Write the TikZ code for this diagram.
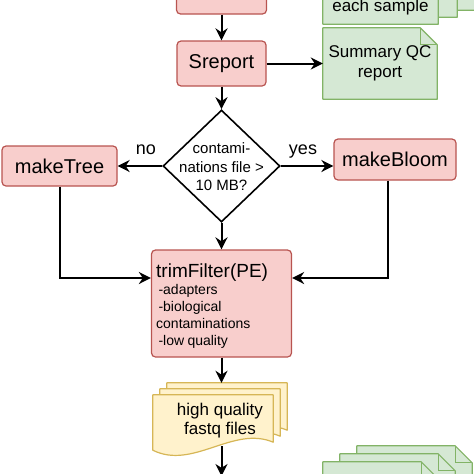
\documentclass[tikz,border=0pt]{standalone}
\usepackage{fontspec}
\setmainfont{Liberation Sans}
\usetikzlibrary{arrows.meta, shapes.geometric, backgrounds, calc}
\definecolor{redfill}{HTML}{F8CECC}
\definecolor{redline}{HTML}{B85450}
\definecolor{greenfill}{HTML}{D5E8D4}
\definecolor{greenline}{HTML}{82B366}
\definecolor{yellowfill}{HTML}{FFF2CC}
\definecolor{yellowline}{HTML}{D6B656}
\newcommand{\foldnote}[1]
{
	\begin{scope}[on background layer]
	\draw[fill=greenfill, draw=greenline, line width=1.2pt, line join=round] (#1.south west) -- (#1.north west) -- ([xshift=-17pt]#1.north east) -- ([yshift=-17pt]#1.north east) -- (#1.south east) -- cycle;
	\draw[greenline, line width=1.2pt] ([xshift=-17pt]#1.north east) |- ([yshift=-17pt]#1.north east);
	\end{scope}
}
\newcommand{\wavydoc}[1]
{
	\begin{scope}[on background layer]
	\draw[fill=yellowfill, draw=yellowline, line width=1.2pt, line join=round] (#1.south west) -- (#1.north west) -- (#1.north east) -- ([yshift=8pt]#1.south east) .. controls +(-40,-17) and +(40,20) .. (#1.south west) -- cycle;
	\end{scope}
}

\begin{document}
\begin{tikzpicture}[x=1pt, y=-1pt,
	redbox/.style={rectangle, rounded corners=4pt, fill=redfill,
		draw=redline, line width=1.2pt,
		font=\fontsize{20}{24}\selectfont},
	notebox/.style={rectangle, inner sep=0pt, align=center,
		minimum width=115pt, minimum height=71pt,
		font=\fontsize{17}{20.5}\selectfont},
	docbox/.style={rectangle, inner sep=0pt,
		minimum width=120pt, minimum height=55pt},
	lbl/.style={inner sep=0pt},
	arr/.style={-{Stealth[length=12pt, width=12pt]}, line width=2pt}]

	\useasboundingbox (0,0) rectangle (474,474);

	% main column
	\node[redbox, minimum width=90pt, minimum height=44pt] (qc) at (221.5,-8) {};
	\node[redbox, minimum width=89pt, minimum height=45pt] (sreport) at (221.5,63.5) {Sreport};
	\node[diamond, draw=black, line width=1.6pt, minimum width=117pt,
		minimum height=112pt, inner sep=0pt] (dec) at (221.5,166) {};
	\node[lbl, align=center, font=\fontsize{15}{18.5}\selectfont] (dectxt) at (221.5,167) {contami-\\nations file >\\10 MB?};
	\node[redbox, minimum width=115pt, minimum height=40pt] (tree) at (59.5,166) {makeTree};
	\node[redbox, minimum width=122pt, minimum height=41pt] (bloom) at (395,159.5) {makeBloom};
	\node[redbox, minimum width=140pt, minimum height=107pt] (trim) at (221.5,303.5) {};
	\node[anchor=north west, inner sep=0pt, text width=136pt, align=left] (trimtxt) at (156,264)
		{{\fontsize{19}{22}\selectfont trimFilter(PE)\par}
		\fontsize{14}{17}\selectfont \,-adapters\par \,-biological\par contaminations\par \,-low quality\par};

	% reports
	\node[notebox] (qcsamp3) at (418.5,-25.5) {};
	\foldnote{qcsamp3}
	\node[notebox] (qcsamp2) at (399.5,-18.5) {};
	\foldnote{qcsamp2}
	\node[notebox] (qcsamp1) at (380.5,-11.5) {};
	\foldnote{qcsamp1}
	\node[lbl, font=\fontsize{17}{20.5}\selectfont] (qcsamptxt) at (380.5,7.5) {each sample};
	\node[notebox, minimum width=114pt] (summary) at (380,63.5) {Summary QC\\report};
	\foldnote{summary}

	% fastq files
	\node[docbox] (hq3) at (227,410.5) {};
	\wavydoc{hq3}
	\node[docbox] (hq2) at (220,416.5) {};
	\wavydoc{hq2}
	\node[docbox] (hq1) at (213,422.5) {};
	\wavydoc{hq1}
	\node[lbl, align=center, font=\fontsize{17}{19}\selectfont] (hqtxt) at (220,421) {high quality\\fastq files};

	\node[notebox] (out3) at (414.5,481.5) {};
	\foldnote{out3}
	\node[notebox] (out2) at (397.5,489.5) {};
	\foldnote{out2}
	\node[notebox] (out1) at (380.5,497.5) {};
	\foldnote{out1}

	% connectors
	\draw[arr] (qc) -- (sreport);
	\draw[arr] (sreport) -- (summary);
	\draw[arr] (sreport) -- (dec);
	\draw[arr] (dec) -- (tree);
	\draw[arr] (dec.east) -- (dec.east -| bloom.west);
	\node[lbl, font=\fontsize{18}{21}\selectfont] (no) at (146,150) {no};
	\node[lbl, font=\fontsize{18}{21}\selectfont] (yes) at (303,152) {yes};
	\draw[arr] (dec) -- (trim);
	\draw[arr] (tree.south) |- ([yshift=25.5pt]trim.west);
	\draw[arr] ([xshift=-7pt]bloom.south) |- ([yshift=25.5pt]trim.east);
	\draw[arr] (trim.south) -- (trim.south |- hq3.north);
	\coordinate (hqout) at (221.5,476);
	\draw[arr, shorten <=-4pt] (trim.south |- hq1.south) -- (hqout);
\end{tikzpicture}
\end{document}
